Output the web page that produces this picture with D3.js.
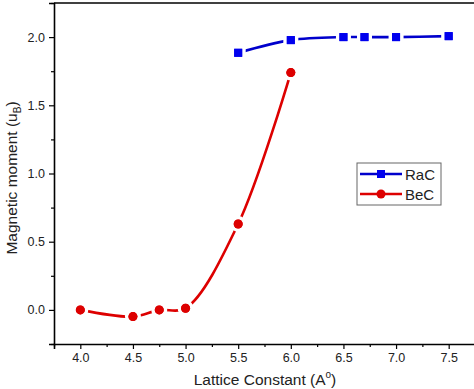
<!DOCTYPE html>
<html><head><meta charset="utf-8">
<script src="https://cdn.jsdelivr.net/npm/d3@7"></script>
<style>body{margin:0;background:#fff}svg{display:block;font-family:"Liberation Sans",Arial,sans-serif}</style>
</head><body><svg id="c" width="474" height="389"></svg>
<script>
const racX = [5.5, 6.0, 6.5, 6.7, 7.0, 7.5];
const racY = [1.885, 1.978, 2.0, 2.0, 2.0, 2.007];
const becX = [4.0, 4.5, 4.75, 5.0, 5.5, 6.0];
const becY = [0.0, -0.049, 0.0, 0.012, 0.63, 1.74];
const xTicks = [4.0, 4.5, 5.0, 5.5, 6.0, 6.5, 7.0, 7.5];
const yTicks = [0.0, 0.5, 1.0, 1.5, 2.0];
const seriesNames = ["RaC", "BeC"];

const svg = d3.select("#c");
const L = 54, R = 475, T = 3, B = 344;
const x = d3.scaleLinear().domain([3.75, 7.75]).range([L, R]);
const y = d3.scaleLinear().domain([-0.25, 2.25]).range([B, T]);
const blue = "#0000cc", red = "#dd0000";

// frame
svg.append("line").attr("x1", L).attr("x2", R).attr("y1", T).attr("y2", T).attr("stroke", "#000").attr("stroke-width", 1.6);

const xAxis = d3.axisBottom(x).tickValues(xTicks).tickFormat(d3.format(".1f")).tickSize(5).tickPadding(4);
const xMinor = d3.axisBottom(x).tickValues(d3.range(3.75, 7.76, 0.25).filter(v => !xTicks.some(t => Math.abs(t - v) < 1e-6))).tickFormat("").tickSize(3);
const yAxis = d3.axisLeft(y).tickValues(yTicks).tickFormat(d3.format(".1f")).tickSize(5).tickPadding(4);
const yMinor = d3.axisLeft(y).tickValues(d3.range(-0.25, 2.26, 0.25).filter(v => !yTicks.some(t => Math.abs(t - v) < 1e-6))).tickFormat("").tickSize(3);

function styleAx(g) {
  g.select(".domain").attr("stroke-width", 1.6);
  g.selectAll(".tick line").attr("stroke-width", 1.2);
  g.selectAll("text").attr("font-size", 12.5).attr("fill", "#222").attr("font-family", "'Liberation Sans',Arial,sans-serif");
}
svg.append("g").attr("transform", `translate(0,${B})`).call(xAxis).call(styleAx);
svg.append("g").attr("transform", `translate(0,${B})`).call(xMinor).call(styleAx).select(".domain").remove();
svg.append("g").attr("transform", `translate(${L},0)`).call(yAxis).call(styleAx);
svg.append("g").attr("transform", `translate(${L},0)`).call(yMinor).call(styleAx).select(".domain").remove();

// axis titles
svg.append("text").attr("x", 265).attr("y", 385).attr("text-anchor", "middle").attr("font-size", 15.5).attr("fill", "#222")
  .html('Lattice Constant (A<tspan dy="-7" font-size="10">o</tspan><tspan dy="7">)</tspan>');
svg.append("text").attr("transform", "translate(17,178) rotate(-90)").attr("text-anchor", "middle").attr("font-size", 15.5).attr("fill", "#222")
  .html('Magnetic moment (u<tspan dy="4" font-size="10">B</tspan><tspan dy="-4">)</tspan>');

const line = d3.line().x(d => x(d[0])).y(d => y(d[1])).curve(d3.curveCatmullRom.alpha(0.5));
const rac = racX.map((v, i) => [v, racY[i]]);
const bec = becX.map((v, i) => [v, becY[i]]);

svg.append("path").datum(bec).attr("d", line).attr("fill", "none").attr("stroke", red).attr("stroke-width", 2.6);
svg.append("path").datum(rac).attr("d", line).attr("fill", "none").attr("stroke", blue).attr("stroke-width", 2.6);

svg.selectAll(".bm").data(bec).join("circle").attr("cx", d => x(d[0])).attr("cy", d => y(d[1])).attr("r", 4.5)
  .attr("fill", red).attr("stroke", "#fff").attr("stroke-width", 7).attr("paint-order", "stroke");
svg.selectAll(".bm2").data(bec).join("circle").attr("cx", d => x(d[0])).attr("cy", d => y(d[1])).attr("r", 4.5).attr("fill", red);
svg.selectAll(".rm").data(rac).join("rect").attr("x", d => x(d[0]) - 4).attr("y", d => y(d[1]) - 4).attr("width", 8).attr("height", 8)
  .attr("fill", "#0000ee").attr("stroke", "#fff").attr("stroke-width", 7).attr("paint-order", "stroke");
svg.selectAll(".rm2").data(rac).join("rect").attr("x", d => x(d[0]) - 4).attr("y", d => y(d[1]) - 4).attr("width", 8).attr("height", 8).attr("fill", "#0000ee");

// legend
const lg = svg.append("g");
lg.append("rect").attr("x", 357).attr("y", 163).attr("width", 84).attr("height", 42).attr("fill", "#fff").attr("stroke", "#666").attr("stroke-width", 1);
const cols = [blue, red];
seriesNames.forEach((n, i) => {
  const yy = 174 + i * 20;
  lg.append("line").attr("x1", 360).attr("x2", 402).attr("y1", yy).attr("y2", yy).attr("stroke", cols[i]).attr("stroke-width", 2.6);
  if (i === 0) lg.append("rect").attr("x", 377).attr("y", yy - 4).attr("width", 8).attr("height", 8).attr("fill", "#0000ee");
  else lg.append("circle").attr("cx", 381).attr("cy", yy).attr("r", 4.5).attr("fill", red);
  lg.append("text").attr("x", 405).attr("y", yy + 5.5).attr("font-size", 15).attr("fill", "#222").text(n);
});
</script></body></html>
